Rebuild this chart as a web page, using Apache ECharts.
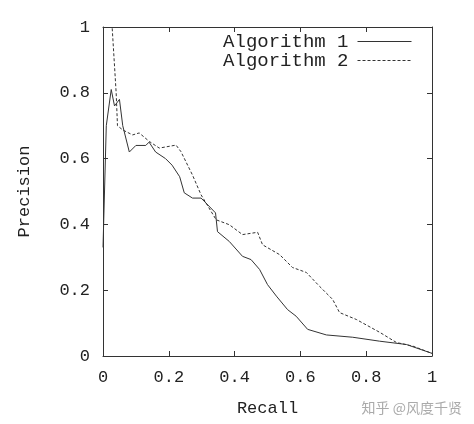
<!DOCTYPE html>
<html>
<head>
<meta charset="utf-8">
<script src="https://cdn.jsdelivr.net/npm/echarts@6/dist/echarts.min.js"></script>
<style>html,body{margin:0;padding:0;background:#fff}#main{width:474px;height:424px}</style>
</head>
<body>
<div id="main"></div>
<script>
var xTicks = [0, 0.2, 0.4, 0.6, 0.8, 1];
var yTicks = [0, 0.2, 0.4, 0.6, 0.8, 1];
var seriesNames = ['Algorithm 1', 'Algorithm 2'];

// Algorithm 1 (solid)
var algo1 = [[0, 0.33], [0.01, 0.70], [0.025, 0.81], [0.035, 0.76], [0.05, 0.78], [0.06, 0.70],
    [0.08, 0.62], [0.10, 0.64], [0.13, 0.64], [0.14, 0.65], [0.16, 0.62], [0.19, 0.60], [0.21, 0.58],
    [0.233, 0.545], [0.247, 0.496], [0.272, 0.48], [0.298, 0.48], [0.313, 0.465], [0.342, 0.435],
    [0.348, 0.378], [0.384, 0.348], [0.424, 0.303], [0.45, 0.293], [0.476, 0.263], [0.50, 0.217],
    [0.527, 0.182], [0.561, 0.141], [0.587, 0.121], [0.622, 0.081], [0.679, 0.064], [0.759, 0.057],
    [0.841, 0.045], [0.922, 0.035], [1.0, 0.008]];

// Algorithm 2 (dashed)
var algo2 = [[0.028, 0.996], [0.04, 0.80], [0.044, 0.70], [0.06, 0.687], [0.09, 0.672], [0.11, 0.678],
    [0.141, 0.652], [0.171, 0.632], [0.222, 0.641], [0.237, 0.621], [0.272, 0.55], [0.298, 0.49],
    [0.302, 0.485], [0.344, 0.414], [0.384, 0.399], [0.424, 0.369], [0.47, 0.376], [0.485, 0.338],
    [0.537, 0.308], [0.576, 0.269], [0.618, 0.254], [0.658, 0.212], [0.698, 0.172], [0.719, 0.132],
    [0.77, 0.111], [0.841, 0.072], [0.892, 0.041], [0.942, 0.03], [1.0, 0.008]];

var font = 'Liberation Mono';
var chart = echarts.init(document.getElementById('main'));

function axisBase(pos, show) {
    return {
        type: 'value', min: 0, max: 1, interval: 0.2, position: pos,
        axisLine: {show: true, onZero: false, lineStyle: {color: '#333', width: 1}},
        axisTick: {show: true, inside: true, length: 5, lineStyle: {color: '#333'}},
        splitLine: {show: false},
        axisLabel: {show: show, color: '#222', fontFamily: font, fontSize: 17, margin: 13,
            formatter: function (v) { return String(Math.round(v * 10) / 10); }}
    };
}

var xa = axisBase('bottom', true);
xa.name = 'Recall'; xa.nameLocation = 'middle'; xa.nameGap = 44;
xa.nameTextStyle = {fontFamily: font, fontSize: 17, color: '#222'};
var ya = axisBase('left', true);
ya.name = 'Precision'; ya.nameLocation = 'middle'; ya.nameGap = 70;
ya.nameTextStyle = {fontFamily: font, fontSize: 17, color: '#222'};

var option = {
    animation: false,
    grid: {left: 103, top: 27, width: 329, height: 329},
    xAxis: [xa, axisBase('top', false)],
    yAxis: [ya, axisBase('right', false)],
    legend: {
        orient: 'vertical', right: 62, top: 32, align: 'right', padding: 0,
        itemWidth: 54, itemHeight: 8, itemGap: 0,
        itemStyle: {opacity: 0},
        lineStyle: {width: 1},
        textStyle: {fontFamily: font, fontSize: 19, lineHeight: 19, color: '#222', padding: [0, 4, 0, 0]},
        data: seriesNames
    },
    graphic: [{
        type: 'text', right: 12, bottom: 9,
        style: {text: '知乎 @风度千贤', fill: '#aaa', font: '14px "Noto Sans CJK SC"'}
    }],
    series: [
        {name: seriesNames[0], type: 'line', data: algo1, showSymbol: false, symbol: 'none',
            lineStyle: {color: '#333', width: 1}, itemStyle: {color: '#333'}},
        {name: seriesNames[1], type: 'line', data: algo2, showSymbol: false, symbol: 'none',
            lineStyle: {color: '#333', width: 1, type: [3, 2]}, itemStyle: {color: '#333'}}
    ]
};
chart.setOption(option);
</script>
</body>
</html>
